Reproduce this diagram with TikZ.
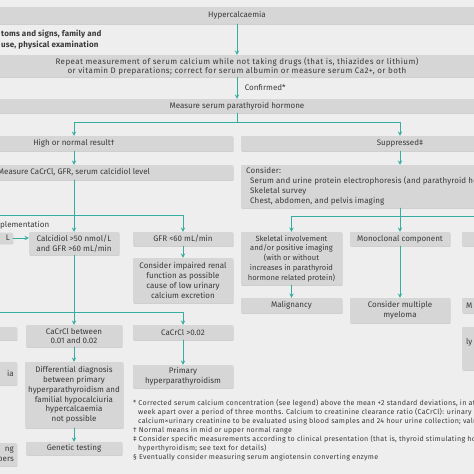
\documentclass[tikz,border=0pt]{standalone}
\usepackage{fontspec}
\setmainfont{Fira Sans}
\usetikzlibrary{shadows}
\definecolor{bgray}{HTML}{EEEEEE}
\definecolor{boxgray}{HTML}{D6D6D6}
\definecolor{ink}{HTML}{3A3A3A}
\definecolor{flowteal}{HTML}{36ADA1}
\tikzset{
	gbox/.style={fill=boxgray, align=center, inner sep=0pt, rounded corners=0.8pt,
		drop shadow={shadow xshift=0.6pt, shadow yshift=-0.9pt, fill=black, opacity=0.13}},
	edgebox/.style={gbox, anchor=east, text width=54pt, align=right, inner xsep=3pt},
	flow/.style={draw=flowteal, line width=0.9pt},
	spaced/.style={font=\fontsize{8}{#1}\selectfont\addfontfeature{LetterSpace=5.5}},
}
\begin{document}
\begin{tikzpicture}[x=1pt, y=-1pt, font=\fontsize{8}{9.8}\selectfont, text=ink, line join=round, line cap=round, >=stealth]
	\useasboundingbox (0,0) rectangle (474,474);
	\fill[bgray] (0,0) rectangle (474,474);
	\clip (0,0) rectangle (474,474);
	% top part, full width
	\node[gbox, minimum width=520pt, minimum height=17pt] (hyp) at (237,15.5) {Hypercalcaemia};
	\node[anchor=north west, align=left, inner sep=0pt, font=\fontsize{8}{10.5}\selectfont\bfseries\addfontfeature{LetterSpace=2}] (hist) at (1,30) {toms and signs, family and\\use, physical examination};
	\node[gbox, minimum width=520pt, minimum height=22pt, spaced=9] (rep) at (237,66) {Repeat measurement of serum calcium while not taking drugs (that is, thiazides or lithium)\\or vitamin D preparations; correct for serum albumin or measure serum Ca2+, or both};
	\node[gbox, minimum width=520pt, minimum height=14pt] (pth) at (237,106) {Measure serum parathyroid hormone};
	\draw[flow,->] (hyp) -- (rep);
	\draw[flow,->] (rep) -- node[right, xshift=4pt]{Confirmed*} (pth);
	\node[gbox, minimum width=318pt, minimum height=15pt] (high) at (74,143.5) {High or normal result†};
	\node[gbox, minimum width=318pt, minimum height=15pt] (supp) at (400,143.5) {Suppressed‡};
	\coordinate (s1) at (237,122);
	\draw[flow] (pth) -- (s1);
	\draw[flow,->] (s1) -| (high);
	\draw[flow,->] (s1) -| (supp);
	% suppressed branch
	\node[gbox, minimum width=318pt, minimum height=43pt] (cons) at (400,186.5) {};
	\node[anchor=north west, align=left, inner sep=0pt, font=\fontsize{8}{9.7}\selectfont\addfontfeature{LetterSpace=1.5}] (consT) at (246,167.5) {Consider:\\
		\hspace*{4pt}Serum and urine protein electrophoresis (and parathyroid ho\\
		\hspace*{4pt}Skeletal survey\\
		\hspace*{4pt}Chest, abdomen, and pelvis imaging};
	\draw[flow,->] (supp) -- (cons);
	\node[gbox, minimum width=101pt, minimum height=53pt, font=\fontsize{7.6}{9.8}\selectfont] (skel) at (291.5,258.5) {Skeletal involvement\\and/or positive imaging\\(with or without\\increases in parathyroid\\hormone related protein)};
	\node[gbox, minimum width=100pt, minimum height=14pt] (mono) at (400,239) {Monoclonal component};
	\node[gbox, minimum width=100pt, minimum height=14pt] (rb1) at (512,239) {};
	\coordinate (s2) at (400,216);
	\draw[flow] (cons) -- (s2);
	\draw[flow,->] (s2) -| (skel);
	\draw[flow,->] (s2) -- (mono);
	\draw[flow,->] (s2) -| (rb1);
	\node[gbox, minimum width=101pt, minimum height=15pt] (malig) at (291.5,305.5) {Malignancy};
	\node[gbox, minimum width=100pt, minimum height=25pt] (myel) at (400,310.5) {Consider multiple\\myeloma};
	\node[gbox, anchor=west, minimum width=100pt, minimum height=15pt, text width=92pt, align=left, inner xsep=4pt] (rb2) at (462,305.5) {M};
	\node[gbox, anchor=west, minimum width=100pt, minimum height=43pt] (rb3) at (462,348.5) {};
	\node[anchor=west, inner sep=0pt] (rb3T) at (466,342) {ly};
	\draw[flow,->] (skel) -- (malig);
	\draw[flow,->] (mono) -- (myel);
	% high or normal branch
	\node[gbox, minimum width=318pt, minimum height=15pt] (meas) at (74,172.5) {Measure CaCrCl, GFR, serum calcidiol level};
	\draw[flow,->] (high) -- (meas);
	\node[anchor=base west, inner sep=0pt] (plem) at (0,227) {plementation};
	\node[edgebox, minimum height=11pt] (lbl) at (13,238) {L};
	\node[gbox, minimum width=90pt, minimum height=23pt] (calc) at (74,243.5) {Calcidiol >50 nmol/L\\and GFR >60 mL/min};
	\node[gbox, minimum width=100pt, minimum height=14pt] (gfr) at (183,239) {GFR <60 mL/min};
	\node[gbox, minimum width=100pt, minimum height=45pt] (renal) at (183,280.5) {Consider impaired renal\\function as possible\\cause of low urinary\\calcium excretion};
	\coordinate (s3) at (74,215);
	\coordinate (l3) at (-5,215);
	\draw[flow] (meas) -- (s3);
	\draw[flow,->] (s3) -- (calc);
	\draw[flow,->] (s3) -| (gfr);
	\draw[flow] (s3) -- (l3);
	\draw[flow,->] (lbl.east) -- (lbl.east -| calc.west);
	\draw[flow,->] (gfr) -- (renal);
	\node[gbox, minimum width=96pt, minimum height=22pt] (bet) at (74,336) {CaCrCl between\\0.01 and 0.02};
	\node[gbox, minimum width=100pt, minimum height=15pt] (gt02) at (183,332.5) {CaCrCl >0.02};
	\coordinate (s4) at (74,312);
	\coordinate (l4) at (-5,312);
	\draw[flow] (calc) -- (s4);
	\draw[flow,->] (s4) -- (bet);
	\draw[flow,->] (s4) -| (gt02);
	\draw[flow] (s4) -- (l4);
	\node[gbox, minimum width=98pt, minimum height=66pt] (diff) at (74,395) {Differential diagnosis\\between primary\\hyperparathyroidism and\\familial hypocalciuria\\hypercalcaemia\\not possible};
	\node[gbox, minimum width=96pt, minimum height=13pt] (gen) at (74,448.5) {Genetic testing};
	\node[gbox, minimum width=100pt, minimum height=23pt] (prim) at (183,376.5) {Primary\\hyperparathyroidism};
	\draw[flow,->] (bet) -- (diff);
	\draw[flow,->] (diff) -- (gen);
	\draw[flow,->] (gt02) -- (prim);
	% boxes cut at the left edge
	\node[edgebox, minimum height=13pt] (lb1) at (17,333.5) {};
	\node[edgebox, minimum height=23pt] (lb2) at (17,373.5) {ia};
	\node[edgebox, minimum height=23pt] (lb3) at (17,454.5) {ng\\bers};
	% footnotes
	\node[anchor=north west, align=left, inner sep=0pt, font=\fontsize{7.1}{9}\selectfont\addfontfeature{LetterSpace=4}] (notes) at (133,399) {* Corrected serum calcium concentration (see legend) above the mean +2 standard deviations, in at least t\\
		\hspace*{5pt}week apart over a period of three months. Calcium to creatinine clearance ratio (CaCrCl): urinary calcium\\
		\hspace*{5pt}calcium×urinary creatinine to be evaluated using blood samples and 24 hour urine collection; values in m\\
		† Normal means in mid or upper normal range\\
		‡ Consider specific measurements according to clinical presentation (that is, thyroid stimulating hormone,\\
		\hspace*{5pt}hyperthyroidism; see text for details)\\
		§ Eventually consider measuring serum angiotensin converting enzyme};
\end{tikzpicture}
\end{document}
